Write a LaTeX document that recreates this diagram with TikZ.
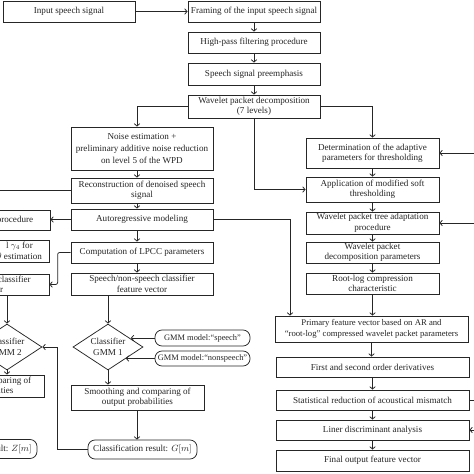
\documentclass[tikz,border=0pt]{standalone}
\usepackage{fontspec}
\setmainfont{Liberation Serif}
\usetikzlibrary{calc,shapes.geometric,arrows.meta}

\begin{document}
\begin{tikzpicture}[x=1pt, y=-1pt, line width=0.75pt, color=black!85,
  >={Straight Barb[length=2.5pt,width=5.5pt]},
  every node/.style={font=\fontsize{9.1}{10.4}\selectfont},
  box/.style={draw, rectangle, align=center, inner sep=1pt, minimum width=133},
  term/.style={draw, rectangle, rounded corners=7pt, align=center, inner sep=1pt},
  dec/.style={draw, diamond, aspect=1.5, inner sep=0pt, minimum width=70, minimum height=46, align=center},
  arr/.style={->}]
  \useasboundingbox (0,0) rectangle (474,474);
  \clip (0,0) rectangle (474,474);
  \fill[white] (0,0) rectangle (474,474);

  % top row
  \node[box, minimum width=132, minimum height=21] (inp) at (69,11.5) {Input speech signal};
  \node[box, minimum width=132, minimum height=21] (frm) at (254,11.5) {Framing of the input speech signal};
  \node[box, minimum width=132, minimum height=21] (hpf) at (254,42.5) {High-pass filtering procedure};
  \node[box, minimum width=132, minimum height=22] (pre) at (254,74) {Speech signal preemphasis};
  \node[box, minimum width=132, minimum height=23] (wpd) at (254,106.5) {Wavelet packet decomposition\\(7 levels)};

  % middle column
  \node[box, minimum width=142, minimum height=43] (noise) at (142,148.5) {Noise estimation +\\[1.5pt]preliminary additive noise reduction\\[1.5pt]on level 5 of the WPD};
  \node[box, minimum width=142, minimum height=25] (recon) at (142,190.5) {Reconstruction of denoised speech\\signal};
  \node[box, minimum width=142, minimum height=21] (ar) at (142,219.5) {Autoregressive modeling};
  \node[box, minimum width=142, minimum height=21] (lpcc) at (142,252.5) {Computation of LPCC parameters};
  \node[box, minimum width=142, minimum height=22] (snv) at (142,284) {Speech/non-speech classifier\\feature vector};
  \node[dec] (gmm1) at (108,347) {Classifier\\GMM 1};
  \node[term, minimum width=95, minimum height=16, font=\fontsize{8.4}{10}\selectfont] (mS) at (202.5,338) {GMM model:“speech”};
  \node[term, minimum width=95, minimum height=15, font=\fontsize{8.4}{10}\selectfont] (mN) at (202.5,358.5) {GMM model:“nonspeech”};
  \node[box, minimum height=25] (sm1) at (137.5,397.5) {Smoothing and comparing of\\output probabilities};
  \node[term, minimum width=109, minimum height=19] (cr1) at (142.5,449.5) {Classification result: $G[m]$};

  % left column (cut by the edge)
  \node[box, minimum width=70, minimum height=20] (procL) at (15,220) {procedure};
  \node[box, minimum width=59, minimum height=22] (gamL) at (19.5,251) {l $\gamma_4$ for\\$\theta$ estimation};
  \node[box, minimum width=142, minimum height=21] (snvL) at (-22,284.5) {Speech/non-speech classifier\\feature vector};
  \node[dec] (gmm2) at (7,347) {Classifier\\GMM 2};
  \node[box, minimum height=22] (sm2) at (-22,386) {Smoothing and comparing of\\output probabilities};
  \node[term, minimum width=109, minimum height=19] (cr2) at (-17.5,449) {Classification result: $Z[m]$};

  % right column
  \node[box, minimum height=30] (det) at (372.5,153) {Determination of the adaptive\\parameters for thresholding};
  \node[box, minimum height=25] (app) at (372.5,189.5) {Application of modified soft\\thresholding};
  \node[box, minimum height=22] (wpt) at (372.5,223) {Wavelet packet tree adaptation\\procedure};
  \node[box, minimum height=21] (wpp) at (372.5,252.5) {Wavelet packet\\decomposition parameters};
  \node[box, minimum height=21] (rlc) at (372.5,283.5) {Root-log compression\\characteristic};
  \node[box, minimum width=193, minimum height=26, font=\fontsize{8.7}{10.8}\selectfont] (pfv) at (371.5,329) {Primary feature vector based on AR and\\“root-log” compressed wavelet packet parameters};
  \node[box, minimum width=193, minimum height=20] (fsd) at (372.5,367) {First and second order derivatives};
  \node[box, minimum width=193, minimum height=20] (srm) at (372.5,400) {Statistical reduction of acoustical mismatch};
  \node[box, minimum width=193, minimum height=20] (lda) at (372.5,430) {Liner discriminant analysis};
  \node[box, minimum width=193, minimum height=21] (fov) at (372.5,460.5) {Final output feature vector};

  \coordinate (mx) at (137,0);
  \coordinate (px) at (290,0);
  \coordinate (recL) at (-10,190.5);
  \coordinate (eDet) at (480,153);
  \coordinate (eWpt) at (480,223);
  \coordinate (eSrm) at (480,400);
  \coordinate (eLda) at (480,430);

  % main chain
  \draw[arr] (inp) -- (frm);
  \foreach \a/\b in {frm/hpf, hpf/pre, pre/wpd}
    \draw[arr] (\a) -- (\b);
  \draw[arr] (wpd.west) -| (noise.north -| mx);
  \draw[arr] (wpd.east) -| (det.north);
  \draw[arr] (wpd.south) |- (app.west);

  % middle column
  \foreach \a/\b in {noise/recon, recon/ar, ar/lpcc, lpcc/snv}
    \draw[arr] (\a.south -| mx) -- (\b.north -| mx);
  \draw (recon.west) -- (recL);
  \draw[arr] (ar.west) -- (ar.west -| procL.east);
  \draw[arr] (ar.east) -| (pfv.north -| px);
  \draw[arr, rounded corners=2pt] (lpcc.west) -- ++(-13,0) |- (snvL.east);
  \draw[arr] (snv.south -| gmm1.north) -- (gmm1.north);
  \draw[arr] (mS.west) -- (mS.west -| gmm1.20);
  \draw[arr] (mN.west) -- (mN.west -| gmm1.-33);
  \draw[arr] (gmm1.south) -- (gmm1.south |- sm1.north);
  \draw[arr] (sm1.south -| mx) -- (cr1.north -| mx);
  \draw[arr] (cr1.west) -- ++(-30,0) |- (gmm2.east);

  % left column
  \draw[arr] (snvL.south -| gmm2.north) -- (gmm2.north);
  \draw[arr] (gmm2.south) -- (gmm2.south |- sm2.north);
  \draw[arr] (sm2.south) -- (sm2.south |- cr2.north);

  % right column
  \foreach \a/\b in {det/app, app/wpt, wpt/wpp, wpp/rlc, rlc/pfv, pfv/fsd, fsd/srm, srm/lda, lda/fov}
    \draw[arr] (\a.south) -- (\a.south |- \b.north);
  \draw[arr] (eDet) -- (det.east);
  \draw[arr] (eWpt) -- (wpt.east);
  \draw (srm.east) -- (eSrm);
  \draw[arr] (eLda) -- (lda.east);
\end{tikzpicture}
\end{document}
